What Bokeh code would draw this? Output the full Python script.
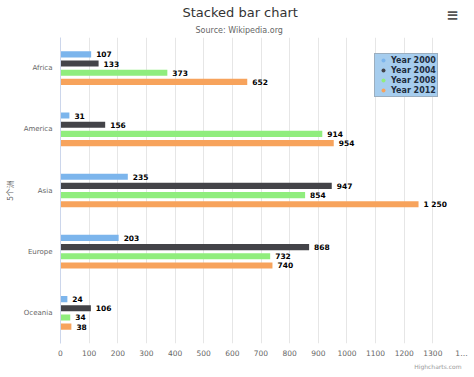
from bokeh.plotting import figure
from bokeh.models import ColumnDataSource, FactorRange, Legend, LegendItem, Label, FixedTicker, Title
from bokeh.transform import dodge
from bokeh.core.properties import value
from bokeh.embed import file_html
from bokeh.resources import INLINE

continents = ["Africa", "America", "Asia", "Europe", "Oceania"]
series_names = ["Year 2000", "Year 2004", "Year 2008", "Year 2012"]
y2000 = [107, 31, 235, 203, 24]
y2004 = [133, 156, 947, 868, 106]
y2008 = [373, 914, 854, 732, 34]
y2012 = [652, 954, 1250, 740, 38]
colors = ["#7cb5ec", "#434348", "#90ed7d", "#f7a35c"]
x_ticks = list(range(0, 1500, 100))
x_tick_labels = {1400: "1…"}

def fmt(v):
    return f"{v:,}".replace(",", " ")

FONT = "DejaVu Sans"
W, H = 474, 377
FL, FB = 58, 343  # frame left / bottom in canvas pixels

p = figure(width=W, height=H, output_backend="svg", toolbar_location=None,
           y_range=FactorRange(*reversed(continents)), x_range=(0, 1400),
           min_border_left=FL, min_border_right=13, min_border_top=37, min_border_bottom=H - FB)
p.outline_line_color = None
p.background_fill_color = "white"

src = ColumnDataSource(dict(cont=continents, s0=y2000, s1=y2004, s2=y2008, s3=y2012,
                            l0=[fmt(v) for v in y2000], l1=[fmt(v) for v in y2004],
                            l2=[fmt(v) for v in y2008], l3=[fmt(v) for v in y2012]))

offsets = [0.225, 0.075, -0.075, -0.225]
for i, off in enumerate(offsets):
    p.hbar(y=dodge("cont", off, range=p.y_range), right=f"s{i}", left=0, height=0.1,
           source=src, fill_color=colors[i], line_color=None)
    p.text(x=f"s{i}", y=dodge("cont", off, range=p.y_range), text=f"l{i}", source=src,
           x_offset=5, text_font=value(FONT), text_font_size="7.5px", text_font_style="bold",
           text_baseline="middle", text_align="left", text_color="#000000")

# legend
dummy = []
for i in range(4):
    d = p.scatter(x=[-100], y=[continents[0]], marker="circle", size=9, fill_color=colors[i],
                  line_color=None)
    dummy.append(d)
legend = Legend(items=[LegendItem(label=series_names[i], renderers=[dummy[i]]) for i in range(4)],
                location=(314, 246), background_fill_color="#a6cdee", background_fill_alpha=1.0,
                border_line_color="#909090", border_line_width=1,
                label_text_font=FONT, label_text_font_size="8px", label_text_font_style="bold",
                label_text_color="#1e2d40", glyph_width=14, glyph_height=10, label_height=8,
                spacing=0, padding=1, margin=0, label_standoff=1)
p.add_layout(legend, "center")

# axes
p.xaxis.ticker = FixedTicker(ticks=x_ticks)
p.xaxis.major_label_overrides = x_tick_labels
p.xaxis.axis_line_color = None
p.xaxis.major_tick_line_color = None
p.xaxis.minor_tick_line_color = None
p.xaxis.major_tick_out = 0
p.xaxis.major_label_text_font = FONT
p.xaxis.major_label_text_font_size = "7.5px"
p.xaxis.major_label_text_color = "#666666"
p.xaxis.major_label_standoff = 5

p.yaxis.axis_line_color = "#ccd6eb"
p.yaxis.major_tick_line_color = None
p.yaxis.minor_tick_line_color = None
p.yaxis.major_tick_out = 0
p.yaxis.major_label_text_font = FONT
p.yaxis.major_label_text_font_size = "7px"
p.yaxis.major_label_text_color = "#666666"
p.yaxis.major_label_standoff = 8
p.yaxis.axis_label = "5个洲"
p.yaxis.axis_label_text_font = "Noto Sans CJK SC"
p.yaxis.axis_label_text_font_size = "8px"
p.yaxis.axis_label_text_font_style = "normal"
p.yaxis.axis_label_text_color = "#666666"
p.yaxis.axis_label_standoff = 6

p.ygrid.grid_line_color = None
p.xgrid.grid_line_color = "#e6e6e6"

# titles (left-aligned Titles shifted from the frame's left edge)
p.add_layout(Title(text="Source: Wikipedia.org", align="left", text_font=FONT,
                   text_font_size="8px", text_font_style="normal", text_color="#666666",
                   standoff=6, offset=193 - FL), "above")
p.add_layout(Title(text="Stacked bar chart", align="left", text_font=FONT,
                   text_font_size="13px", text_font_style="normal", text_color="#333333",
                   standoff=1, offset=180 - FL), "above")
p.add_layout(Title(text="Highcharts.com", align="right", text_font=FONT,
                   text_font_size="6px", text_font_style="normal", text_color="#999999",
                   standoff=0), "below")

# menu icon (in the right border, drawn at canvas coordinates)
p.add_layout(Label(x=452, y=14, x_units="canvas", y_units="canvas", text="≡", text_font=FONT,
                   text_font_size="15px", text_font_style="bold", text_color="#555555",
                   text_align="center", text_baseline="middle"), "right")

with open("out.html", "w") as f:
    f.write(file_html(p, INLINE))
